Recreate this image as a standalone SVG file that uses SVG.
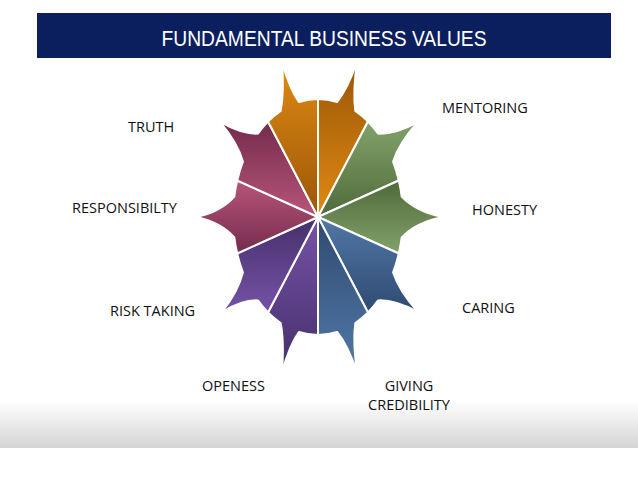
<svg xmlns="http://www.w3.org/2000/svg" width="638" height="478" viewBox="0 0 638 478">
<defs>
<linearGradient id="bg" x1="0" y1="0" x2="0" y2="1"><stop offset="0" stop-color="#fff"/><stop offset="1" stop-color="#d4d4d4"/></linearGradient>
<linearGradient id="or1" x1="0" y1="0" x2="0" y2="1"><stop offset="0" stop-color="#e08a12"/><stop offset="1" stop-color="#9a5608"/></linearGradient>
<linearGradient id="or2" x1="0" y1="0" x2="0" y2="1"><stop offset="0" stop-color="#9a5608"/><stop offset="1" stop-color="#e08a12"/></linearGradient>
<linearGradient id="gr1" x1="0" y1="0" x2="0" y2="1"><stop offset="0" stop-color="#82a26a"/><stop offset="1" stop-color="#4f6a3a"/></linearGradient>
<linearGradient id="gr2" x1="0" y1="0" x2="0" y2="1"><stop offset="0" stop-color="#4f6a3a"/><stop offset="1" stop-color="#82a26a"/></linearGradient>
<linearGradient id="bl1" x1="0" y1="0" x2="0" y2="1"><stop offset="0" stop-color="#5178a8"/><stop offset="1" stop-color="#2f4a70"/></linearGradient>
<linearGradient id="bl2" x1="0" y1="0" x2="0" y2="1"><stop offset="0" stop-color="#2f4a70"/><stop offset="1" stop-color="#5178a8"/></linearGradient>
<linearGradient id="pu1" x1="0" y1="0" x2="0" y2="1"><stop offset="0" stop-color="#7652a8"/><stop offset="1" stop-color="#45306a"/></linearGradient>
<linearGradient id="pu2" x1="0" y1="0" x2="0" y2="1"><stop offset="0" stop-color="#45306a"/><stop offset="1" stop-color="#7652a8"/></linearGradient>
<linearGradient id="ma1" x1="0" y1="0" x2="0" y2="1"><stop offset="0" stop-color="#b8557a"/><stop offset="1" stop-color="#742c4c"/></linearGradient>
<linearGradient id="ma2" x1="0" y1="0" x2="0" y2="1"><stop offset="0" stop-color="#742c4c"/><stop offset="1" stop-color="#b8557a"/></linearGradient>
</defs>
<style>
.s{stroke:#fff;stroke-width:2;stroke-linejoin:round}
.l{font-family:"Open Sans","Liberation Sans",sans-serif;font-size:14.5px;fill:#111}
</style>
<rect width="638" height="478" fill="#fff"/>
<rect x="0" y="400" width="638" height="48" fill="url(#bg)"/>
<g id="header">
<rect x="37" y="13" width="574" height="45" fill="#0b1f5e"/>
<text x="324" y="46" text-anchor="middle" font-family="'Liberation Sans',sans-serif" font-size="22" fill="#fff" textLength="325" lengthAdjust="spacingAndGlyphs">FUNDAMENTAL BUSINESS VALUES</text>
</g>
<g id="wheel">
<path id="s0" class="s" fill="url(#or2)" d="M318,217 L318,99 A85,118 0 0 1 337.1,102 Q347.3,89.5 357,62 Q352.7,92.2 355.3,110.9 A85,118 0 0 1 368,121.5 Z"/>
<path id="s1" class="s" fill="url(#gr1)" d="M318,217 L368,121.5 A85,118 0 0 1 378.1,133.6 Q394.7,134.4 418,122 Q399.2,142.8 393.1,161.6 A85,118 0 0 1 398.8,180.5 Z"/>
<path id="s2" class="s" fill="url(#gr2)" d="M318,217 L398.8,180.5 A85,118 0 0 1 401.7,196.5 Q416.2,211.8 443,217 Q416.2,222.2 401.7,237.5 A85,118 0 0 1 398.8,253.5 Z"/>
<path id="s3" class="s" fill="url(#bl1)" d="M318,217 L398.8,253.5 A85,118 0 0 1 393.1,272.4 Q399.2,291.2 418,312 Q394.7,299.6 378.1,300.4 A85,118 0 0 1 368,312.5 Z"/>
<path id="s4" class="s" fill="url(#bl2)" d="M318,217 L368,312.5 A85,118 0 0 1 355.3,323.1 Q352.7,341.8 357,372 Q347.3,344.5 337.1,332 A85,118 0 0 1 318,335 Z"/>
<path id="s5" class="s" fill="url(#pu1)" d="M318,217 L318,335 A85,118 0 0 1 298.9,332 Q289.8,344.5 282,372 Q284.3,341.8 280.7,323.1 A85,118 0 0 1 268,312.5 Z"/>
<path id="s6" class="s" fill="url(#pu2)" d="M318,217 L268,312.5 A85,118 0 0 1 257.9,300.4 Q242.7,299.6 222,312 Q238.2,291.2 242.9,272.4 A85,118 0 0 1 237.2,253.5 Z"/>
<path id="s7" class="s" fill="url(#ma1)" d="M318,217 L237.2,253.5 A85,118 0 0 1 234.3,237.5 Q220.9,222.2 196,217 Q220.9,211.8 234.3,196.5 A85,118 0 0 1 237.2,180.5 Z"/>
<path id="s8" class="s" fill="url(#ma2)" d="M318,217 L237.2,180.5 A85,118 0 0 1 242.9,161.6 Q237.5,142.8 220,122 Q242,134.4 257.9,133.6 A85,118 0 0 1 268,121.5 Z"/>
<path id="s9" class="s" fill="url(#or1)" d="M318,217 L268,121.5 A85,118 0 0 1 280.7,110.9 Q284.3,92.2 282,62 Q289.8,89.5 298.9,102 A85,118 0 0 1 318,99 Z"/>
</g>
<g id="labels">
<text class="l" x="128" y="132" font-size="15.5">TRUTH</text>
<text class="l" x="442" y="113">MENTORING</text>
<text class="l" x="472" y="215">HONESTY</text>
<text class="l" x="462" y="313">CARING</text>
<text class="l" x="409" y="391" text-anchor="middle">GIVING</text>
<text class="l" x="409" y="410" text-anchor="middle">CREDIBILITY</text>
<text class="l" x="202" y="391">OPENESS</text>
<text class="l" x="110" y="316">RISK TAKING</text>
<text class="l" x="72" y="213" font-size="12.5">RESPONSIBILTY</text>
</g>
</svg>
